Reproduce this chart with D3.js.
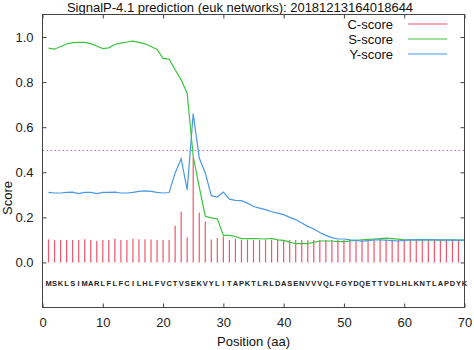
<!DOCTYPE html>
<html><head><meta charset="utf-8">
<script src="https://cdn.jsdelivr.net/npm/d3@7"></script>
<style>
body{margin:0;background:#fff;}
svg{display:block;font-family:"Liberation Sans",Arial,sans-serif;}
</style></head>
<body>
<svg id="chart" width="474" height="350"></svg>
<script>
const title = "SignalP-4.1 prediction (euk networks): 20181213164018644";
const sequence = "MSKLSIMARLFLFCILHLFVCTVSEKVYLITAPKTLRLDASENVVVQLFGYDQETTVDLHLKNTLAPDYK";
const xTicks = [0,10,20,30,40,50,60,70];
const yTicks = [0.0,0.2,0.4,0.6,0.8,1.0];
const cutoff = 0.5;
const seriesNames = ["C-score","S-score","Y-score"];
const cScore = [0.102,0.099,0.099,0.100,0.100,0.099,0.103,0.100,0.095,0.099,
  0.100,0.105,0.099,0.099,0.105,0.103,0.103,0.102,0.099,0.100,
  0.099,0.163,0.225,0.111,0.466,0.220,0.182,0.102,0.108,0.115,
  0.100,0.105,0.100,0.101,0.100,0.100,0.102,0.100,0.101,0.100,
  0.100,0.099,0.100,0.098,0.100,0.100,0.101,0.100,0.099,0.100,
  0.100,0.100,0.101,0.100,0.102,0.100,0.100,0.101,0.100,0.100,
  0.100,0.101,0.100,0.100,0.101,0.100,0.100,0.100,0.100];
const sScore = [0.951,0.946,0.958,0.969,0.975,0.976,0.976,0.971,0.960,0.949,
  0.952,0.967,0.973,0.978,0.982,0.976,0.970,0.958,0.945,0.905,
  0.902,0.855,0.810,0.750,0.470,0.335,0.205,0.198,0.194,0.120,
  0.120,0.115,0.106,0.106,0.106,0.105,0.104,0.107,0.100,0.098,
  0.090,0.083,0.083,0.083,0.089,0.095,0.095,0.095,0.092,0.092,
  0.095,0.098,0.100,0.102,0.104,0.106,0.108,0.106,0.103,0.100,
  0.100,0.100,0.101,0.100,0.100,0.099,0.100,0.100,0.099,0.099];
const yScore = [0.311,0.308,0.308,0.311,0.312,0.305,0.311,0.311,0.305,0.311,
  0.311,0.312,0.308,0.308,0.311,0.315,0.317,0.315,0.311,0.308,
  0.310,0.397,0.460,0.322,0.660,0.463,0.397,0.296,0.290,0.312,
  0.281,0.275,0.274,0.263,0.248,0.241,0.234,0.225,0.219,0.212,
  0.200,0.190,0.175,0.160,0.148,0.133,0.120,0.110,0.104,0.104,
  0.100,0.098,0.094,0.097,0.100,0.100,0.099,0.097,0.095,0.098,
  0.100,0.100,0.100,0.100,0.100,0.100,0.099,0.099,0.099,0.099];
const colors = ["#f0566c","#3cc43c","#4a98e6"];

const svg = d3.select("#chart");
const L = 42.5, R = 464.5, T = 14.5, B = 307.5;
const x = d3.scaleLinear().domain([0,70]).range([L,R]);
const y = d3.scaleLinear().domain([-0.2,1.1]).range([B,T]);

// title
svg.append("text").attr("x",240).attr("y",11.5).attr("text-anchor","middle")
  .attr("font-size",13).attr("fill","#111").text(title);

// cutoff dotted line
svg.append("line").attr("x1",L).attr("x2",R).attr("y1",Math.round(y(cutoff))+0.5).attr("y2",Math.round(y(cutoff))+0.5)
  .attr("stroke","#d85ac4").attr("stroke-width",1).attr("stroke-dasharray","1.5,2.5");

// C-score impulses
svg.append("g").selectAll("line").data(cScore).join("line")
  .attr("x1",(d,i)=>x(i+1)).attr("x2",(d,i)=>x(i+1))
  .attr("y1",y(0)).attr("y2",d=>y(d))
  .attr("stroke",colors[0]).attr("stroke-width",1.2);

const line = d3.line().x((d,i)=>x(i+1)).y(d=>y(d));
svg.append("path").datum(sScore).attr("d",line).attr("fill","none")
  .attr("stroke",colors[1]).attr("stroke-width",1.2);
svg.append("path").datum(yScore).attr("d",line).attr("fill","none")
  .attr("stroke",colors[2]).attr("stroke-width",1.2);

// sequence letters
svg.append("g").selectAll("text").data(sequence.split("")).join("text")
  .attr("x",(d,i)=>x(i+1)).attr("y",285.5).attr("text-anchor","middle")
  .attr("font-size",7.5).attr("font-weight","bold").attr("fill","#222").text(d=>d);

// axes
const fmt = d3.format(".1f");
const ax = svg.append("g").attr("transform",`translate(0,${B})`)
  .call(d3.axisBottom(x).tickValues(xTicks).tickSize(-4).tickPadding(10.5).tickFormat(d3.format("d")));
const axTop = svg.append("g").attr("transform",`translate(0,${T})`)
  .call(d3.axisTop(x).tickValues(xTicks).tickSize(-4).tickFormat(""));
const ay = svg.append("g").attr("transform",`translate(${L},0)`)
  .call(d3.axisLeft(y).tickValues(yTicks).tickSize(-4).tickPadding(9).tickFormat(fmt));
const ayR = svg.append("g").attr("transform",`translate(${R},0)`)
  .call(d3.axisRight(y).tickValues(yTicks).tickSize(-4).tickFormat(""));
[ax,axTop,ay,ayR].forEach(g=>{
  g.select(".domain").remove();
  g.selectAll(".tick line").attr("stroke","#444");
  g.selectAll("text").attr("font-size",13).attr("fill","#222").attr("font-family","Liberation Sans, Arial, sans-serif");
});
svg.append("rect").attr("x",L).attr("y",T).attr("width",R-L).attr("height",B-T)
  .attr("fill","none").attr("stroke","#444").attr("stroke-width",1);

// axis labels
svg.append("text").attr("x",x(35)).attr("y",346).attr("text-anchor","middle")
  .attr("font-size",13).attr("fill","#111").text("Position (aa)");
svg.append("text").attr("transform","translate(12,198) rotate(-90)").attr("text-anchor","middle")
  .attr("font-size",13).attr("fill","#111").text("Score");

// legend
const lg = svg.append("g");
seriesNames.forEach((n,i)=>{
  const yy = 24 + i*15;
  lg.append("text").attr("x",393).attr("y",yy+4.5).attr("text-anchor","end")
    .attr("font-size",13).attr("fill","#111").text(n);
  lg.append("line").attr("x1",408).attr("x2",447).attr("y1",yy).attr("y2",yy)
    .attr("stroke",colors[i]).attr("stroke-width",1.2);
});
</script>
</body></html>
